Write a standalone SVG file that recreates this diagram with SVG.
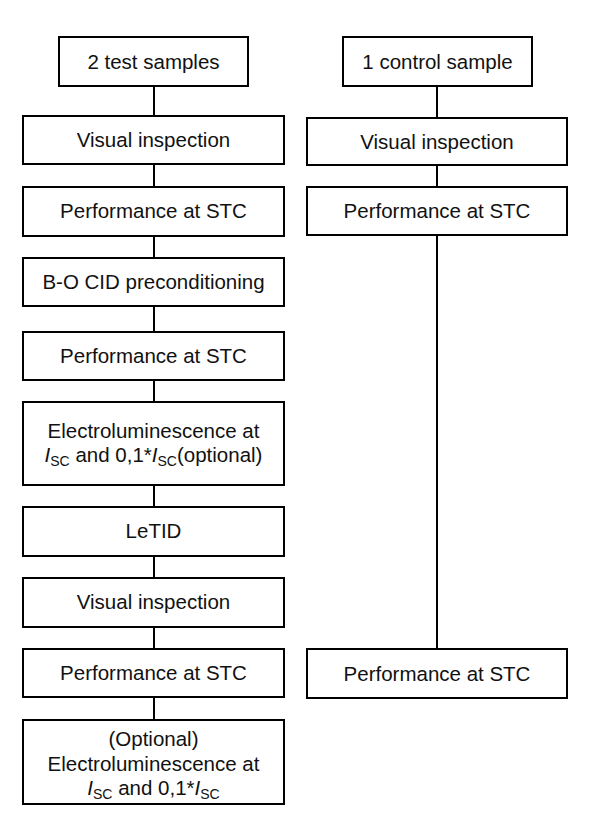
<svg xmlns="http://www.w3.org/2000/svg" width="591" height="827" viewBox="0 0 591 827">
<style>
rect{fill:#fff;stroke:#000;stroke-width:2}
line{stroke:#000;stroke-width:2}
text{font-family:"Liberation Sans",Arial,sans-serif;font-size:20.5px;fill:#111;text-anchor:middle}
.sub{font-size:14px}
.it{font-style:italic}
</style>
<rect x="0" y="0" width="591" height="827" style="stroke:none;fill:#fff"/>
<g id="connectors">
<line x1="154" y1="86" x2="154" y2="116"/>
<line x1="154" y1="164" x2="154" y2="187"/>
<line x1="154" y1="236" x2="154" y2="258"/>
<line x1="154" y1="306" x2="154" y2="332"/>
<line x1="154" y1="380" x2="154" y2="402"/>
<line x1="154" y1="485" x2="154" y2="507"/>
<line x1="154" y1="556" x2="154" y2="578"/>
<line x1="154" y1="627" x2="154" y2="649"/>
<line x1="154" y1="697" x2="154" y2="720"/>
<line x1="437" y1="86" x2="437" y2="118"/>
<line x1="437" y1="165" x2="437" y2="187"/>
<line x1="437" y1="235" x2="437" y2="649"/>
</g>
<g id="n_test"><rect x="59" y="37" width="189" height="49"/><text x="153.5" y="69">2 test samples</text></g>
<g id="n_vis1"><rect x="23" y="116" width="261" height="48"/><text x="153.5" y="147">Visual inspection</text></g>
<g id="n_perf1"><rect x="23" y="187" width="261" height="49"/><text x="153.5" y="218">Performance at STC</text></g>
<g id="n_bo"><rect x="23" y="258" width="261" height="48"/><text x="153.5" y="289">B-O CID preconditioning</text></g>
<g id="n_perf2"><rect x="23" y="332" width="261" height="48"/><text x="153.5" y="363">Performance at STC</text></g>
<g id="n_el1"><rect x="23" y="402" width="261" height="83"/><text x="153.5" y="438">Electroluminescence at</text><text x="153.5" y="462"><tspan class="it">I</tspan><tspan class="sub" dy="4">SC</tspan><tspan dy="-4"> and 0,1*</tspan><tspan class="it">I</tspan><tspan class="sub" dy="4">SC</tspan><tspan dy="-4">(optional)</tspan></text></g>
<g id="n_letid"><rect x="23" y="507" width="261" height="49"/><text x="153.5" y="538">LeTID</text></g>
<g id="n_vis2"><rect x="23" y="578" width="261" height="49"/><text x="153.5" y="609">Visual inspection</text></g>
<g id="n_perf3"><rect x="23" y="649" width="261" height="48"/><text x="153.5" y="680">Performance at STC</text></g>
<g id="n_el2"><rect x="23" y="720" width="261" height="84"/><text x="153.5" y="746">(Optional)</text><text x="153.5" y="771">Electroluminescence at</text><text x="153.5" y="795"><tspan class="it">I</tspan><tspan class="sub" dy="4">SC</tspan><tspan dy="-4"> and 0,1*</tspan><tspan class="it">I</tspan><tspan class="sub" dy="4">SC</tspan></text></g>
<g id="n_ctrl"><rect x="343" y="37" width="189" height="49"/><text x="437.5" y="69">1 control sample</text></g>
<g id="n_cvis"><rect x="307" y="118" width="260" height="47"/><text x="437" y="149">Visual inspection</text></g>
<g id="n_cperf1"><rect x="307" y="187" width="260" height="48"/><text x="437" y="218">Performance at STC</text></g>
<g id="n_cperf2"><rect x="307" y="649" width="260" height="49"/><text x="437" y="681">Performance at STC</text></g>
</svg>
